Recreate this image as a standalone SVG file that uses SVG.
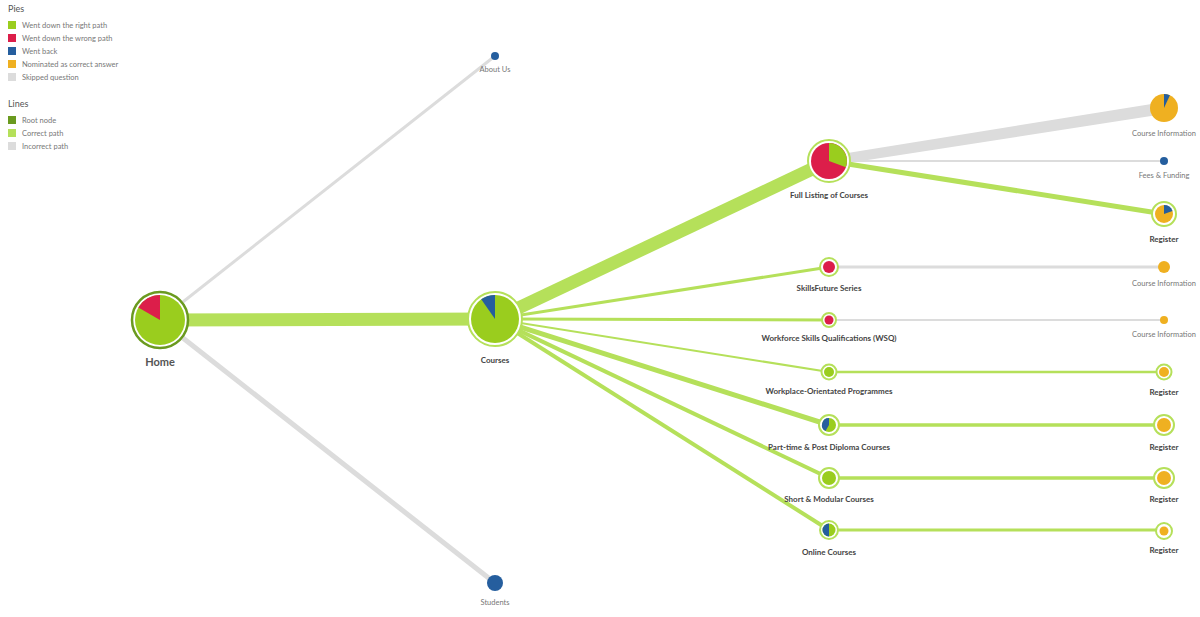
<svg xmlns="http://www.w3.org/2000/svg" width="1200" height="617" viewBox="0 0 1200 617">
<style>
text{font-family:"Lato","Liberation Sans",sans-serif;fill:#555}
.lg{font-size:7.5px;fill:#777}
.lh{font-size:9px;fill:#555}
.lb{font-size:8px;font-weight:bold;fill:#444;text-anchor:middle}
.ls{font-size:7.5px;fill:#777;text-anchor:middle}
.g{stroke:#b5e05a;fill:none}
.x{stroke:#dcdcdc;fill:none}
.ring{fill:#fff;stroke:#b5e05a}
.G{fill:#9acd1e}.R{fill:#dc1e4a}.B{fill:#255e9e}.O{fill:#efb021}
</style>
<g id="legend">
<text x="8" y="12" class="lh">Pies</text>
<rect x="8" y="21" width="8" height="8" class="G"/><text x="22" y="28" class="lg">Went down the right path</text>
<rect x="8" y="34" width="8" height="8" class="R"/><text x="22" y="41" class="lg">Went down the wrong path</text>
<rect x="8" y="47" width="8" height="8" class="B"/><text x="22" y="54" class="lg">Went back</text>
<rect x="8" y="60" width="8" height="8" class="O"/><text x="22" y="67" class="lg">Nominated as correct answer</text>
<rect x="8" y="73" width="8" height="8" fill="#dcdcdc"/><text x="22" y="80" class="lg">Skipped question</text>
<text x="8" y="107" class="lh">Lines</text>
<rect x="8" y="116" width="8" height="8" fill="#6a9a1f"/><text x="22" y="123" class="lg">Root node</text>
<rect x="8" y="129" width="8" height="8" fill="#b5e05a"/><text x="22" y="136" class="lg">Correct path</text>
<rect x="8" y="142" width="8" height="8" fill="#dcdcdc"/><text x="22" y="149" class="lg">Incorrect path</text>
</g>
<g id="connectors">
<line x1="160" y1="320" x2="495" y2="56" class="x" stroke-width="3"/>
<line x1="160" y1="320" x2="495" y2="583" class="x" stroke-width="5"/>
<line x1="160" y1="320" x2="495" y2="319" class="g" stroke-width="13"/>
<line x1="495" y1="319" x2="829" y2="161" class="g" stroke-width="13"/>
<line x1="495" y1="319" x2="829" y2="267" class="g" stroke-width="3"/>
<line x1="495" y1="319" x2="829" y2="320" class="g" stroke-width="3"/>
<line x1="495" y1="319" x2="829" y2="372" class="g" stroke-width="2"/>
<line x1="495" y1="319" x2="829" y2="425" class="g" stroke-width="5"/>
<line x1="495" y1="319" x2="829" y2="478" class="g" stroke-width="4"/>
<line x1="495" y1="319" x2="829" y2="530" class="g" stroke-width="4"/>
<polygon points="829,156 1164,102 1164,114 829,166" fill="#dcdcdc"/>
<line x1="829" y1="161" x2="1164" y2="161" class="x" stroke-width="2"/>
<line x1="829" y1="161" x2="1164" y2="214" class="g" stroke-width="5"/>
<line x1="829" y1="267" x2="1164" y2="267" class="x" stroke-width="3"/>
<line x1="829" y1="320" x2="1164" y2="320" class="x" stroke-width="2"/>
<line x1="829" y1="372" x2="1164" y2="372" class="g" stroke-width="2.5"/>
<line x1="829" y1="425" x2="1164" y2="425" class="g" stroke-width="3.5"/>
<line x1="829" y1="478" x2="1164" y2="478" class="g" stroke-width="3.5"/>
<line x1="829" y1="530" x2="1164" y2="530" class="g" stroke-width="3"/>
</g>
<g id="home">
<circle cx="160" cy="320" r="28" fill="#fff" stroke="#6a9a1f" stroke-width="2.5"/>
<circle cx="160" cy="320" r="25" class="G"/>
<path d="M160,320 L160,295 A25,25 0 0,0 138.35,307.5 Z" class="R"/>
<text x="160" y="366" font-size="11" font-weight="bold" fill="#444" text-anchor="middle">Home</text>
</g>
<g id="about"><circle cx="495" cy="56" r="4" class="B"/><text x="495" y="72" class="ls">About Us</text></g>
<g id="students"><circle cx="495" cy="583" r="8" class="B"/><text x="495" y="605" class="ls">Students</text></g>
<g id="courses">
<circle cx="495" cy="319" r="27" class="ring" stroke-width="2"/>
<circle cx="495" cy="319" r="24" class="G"/>
<path d="M495,319 L495,295 A24,24 0 0,0 481.2,299.3 Z" class="B"/>
<text x="495" y="363" class="lb">Courses</text>
</g>
<g id="fulllisting">
<circle cx="829" cy="161" r="21" class="ring" stroke-width="2"/>
<circle cx="829" cy="161" r="18" class="R"/>
<path d="M829,161 L829,143 A18,18 0 0,1 845.9,167.2 Z" class="G"/>
<text x="829" y="198" class="lb">Full Listing of Courses</text>
</g>
<g id="skills">
<circle cx="829" cy="267" r="9" class="ring" stroke-width="2"/><circle cx="829" cy="267" r="6" class="R"/>
<text x="829" y="291" class="lb">SkillsFuture Series</text>
</g>
<g id="wsq">
<circle cx="829" cy="320" r="7" class="ring" stroke-width="2"/><circle cx="829" cy="320" r="4.5" class="R"/>
<text x="829" y="341" class="lb">Workforce Skills Qualifications (WSQ)</text>
</g>
<g id="workplace">
<circle cx="829" cy="372" r="7.5" class="ring" stroke-width="2"/><circle cx="829" cy="372" r="5" class="G"/>
<text x="829" y="394" class="lb">Workplace-Orientated Programmes</text>
</g>
<g id="parttime">
<circle cx="829" cy="425" r="10" class="ring" stroke-width="2"/><circle cx="829" cy="425" r="7" class="G"/>
<path d="M829,425 L829,418 A7,7 0 0,0 825.5,431.1 Z" class="B"/>
<text x="829" y="450" class="lb">Part-time &amp; Post Diploma Courses</text>
</g>
<g id="short">
<circle cx="829" cy="478" r="10" class="ring" stroke-width="2"/><circle cx="829" cy="478" r="7" class="G"/>
<text x="829" y="502" class="lb">Short &amp; Modular Courses</text>
</g>
<g id="online">
<circle cx="829" cy="530" r="9" class="ring" stroke-width="2"/><circle cx="829" cy="530" r="6.5" class="G"/>
<path d="M829,530 L829,523.5 A6.5,6.5 0 0,0 829,536.5 Z" class="B"/>
<text x="829" y="555" class="lb">Online Courses</text>
</g>
<g id="ci1">
<circle cx="1164" cy="108" r="14" class="O"/>
<path d="M1164,108 L1164,94 A14,14 0 0,1 1169.9,95.3 Z" class="B"/>
<text x="1164" y="136" class="ls">Course Information</text>
</g>
<g id="fees"><circle cx="1164" cy="161" r="4" class="B"/><text x="1164" y="178" class="ls">Fees &amp; Funding</text></g>
<g id="reg1">
<circle cx="1164" cy="214" r="12" class="ring" stroke-width="2"/><circle cx="1164" cy="214" r="9" class="O"/>
<path d="M1164,214 L1164,205 A9,9 0 0,1 1172.5,210.9 Z" class="B"/>
<text x="1164" y="242" class="lb">Register</text>
</g>
<g id="ci2"><circle cx="1164" cy="267" r="6" class="O"/><text x="1164" y="286" class="ls">Course Information</text></g>
<g id="ci3"><circle cx="1164" cy="320" r="4" class="O"/><text x="1164" y="337" class="ls">Course Information</text></g>
<g id="reg2"><circle cx="1164" cy="372" r="7.5" class="ring" stroke-width="2"/><circle cx="1164" cy="372" r="5" class="O"/><text x="1164" y="395" class="lb">Register</text></g>
<g id="reg3"><circle cx="1164" cy="425" r="10" class="ring" stroke-width="2"/><circle cx="1164" cy="425" r="7" class="O"/><text x="1164" y="450" class="lb">Register</text></g>
<g id="reg4"><circle cx="1164" cy="478" r="10" class="ring" stroke-width="2"/><circle cx="1164" cy="478" r="7" class="O"/><text x="1164" y="502" class="lb">Register</text></g>
<g id="reg5"><circle cx="1164" cy="531" r="8" class="ring" stroke-width="2"/><circle cx="1164" cy="531" r="4.5" class="O"/><text x="1164" y="553" class="lb">Register</text></g>
</svg>
